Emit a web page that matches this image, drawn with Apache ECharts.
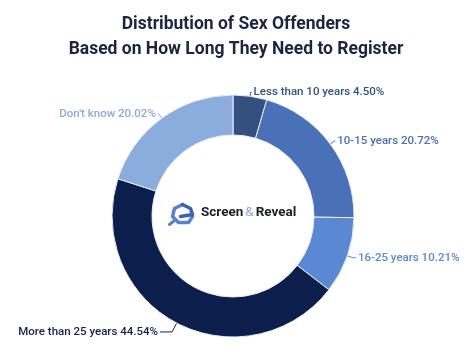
<!DOCTYPE html>
<html><head><meta charset="utf-8">
<script src="https://cdn.jsdelivr.net/npm/echarts@6/dist/echarts.min.js"></script>
<style>html,body{margin:0;padding:0;background:#fff}#c{width:474px;height:356px}</style>
</head><body><div id="c"></div>
<script>
const titleLines = ['Distribution of Sex Offenders', 'Based on How Long They Need to Register'];
const categories = ['Less than 10 years', '10-15 years', '16-25 years', 'More than 25 years', "Don't know"];
const values = [4.50, 20.72, 10.21, 44.54, 20.02];
const colors = ['#34507f', '#4a70b8', '#5a88d2', '#0c1e4b', '#8badde'];
const labelColors = ['#34507f', '#4a70b8', '#5a88d2', '#14234d', '#8fa9dc'];
const lineLen = [[4, 1], [5, 1], [6, 3], [10, 12], [5, 1]];

const chart = echarts.init(document.getElementById('c'), null, {renderer: 'canvas'});
const data = categories.map((c, i) => ({
  name: c, value: values[i],
  itemStyle: {color: colors[i]},
  label: {color: labelColors[i]},
  labelLine: {length: lineLen[i][0], length2: lineLen[i][1], lineStyle: {color: labelColors[i]}}
}));
chart.setOption({
  animation: false,
  title: {
    text: titleLines.join('\n'), left: 231, textAlign: 'center', top: 7,
    textStyle: {fontFamily: 'Roboto', fontWeight: 'bold', fontSize: 17.5, color: '#1b2440', lineHeight: 25}
  },
  graphic: [
    {type: 'group', left: 167, top: 202, children: [
      {type: 'polyline', shape: {points: [[14,3],[6,7],[4,15],[10,21],[20,21],[24,15]]},
        style: {stroke: '#5d7fcf', lineWidth: 3.5, fill: null, lineJoin: 'round', lineCap: 'round'}},
      {type: 'polyline', shape: {points: [[14,3],[22,7],[24,13],[12,15]]},
        style: {stroke: '#3d5fb8', lineWidth: 3.5, fill: null, lineJoin: 'round', lineCap: 'round'}},
      {type: 'line', shape: {x1: 6, y1: 19, x2: 1, y2: 23}, style: {stroke: '#5d7fcf', lineWidth: 3, lineCap: 'round'}}
    ]},
    {type: 'text', left: 201, top: 206, style: {
      text: '{a|Screen}{b|&}{a|Reveal}',
      rich: {
        a: {fontFamily: 'Roboto', fontWeight: 'bold', fontSize: 13.5, fill: '#1c1f2a'},
        b: {fontFamily: 'Roboto', fontSize: 13.5, fill: '#8ea6dc', padding: [0, 2]}
      }
    }}
  ],
  series: [{
    type: 'pie',
    center: [233, 216],
    radius: [81, 121],
    startAngle: 90,
    clockwise: true,
    avoidLabelOverlap: false,
    itemStyle: {borderColor: '#e8eef8', borderWidth: 1},
    label: {
      show: true, position: 'outside', fontFamily: 'Roboto', fontSize: 11.5, fontWeight: 500,
      distanceToLabelLine: 2,
      formatter: p => p.name + ' ' + p.value.toFixed(2) + '%'
    },
    labelLine: {show: true, lineStyle: {width: 1}},
    data: data
  }]
});
</script></body></html>
